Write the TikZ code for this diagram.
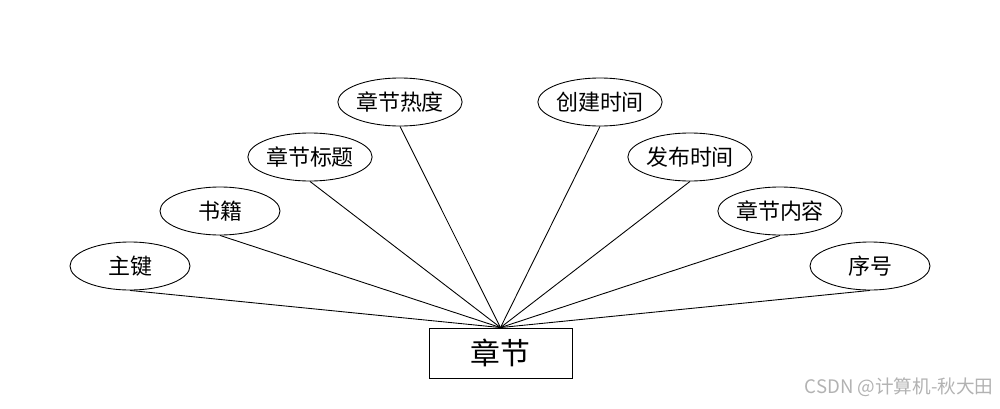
\documentclass[tikz,border=0pt]{standalone}
\usepackage{fontspec}
\setmainfont{Noto Sans CJK SC}
\usetikzlibrary{shapes.geometric}

\begin{document}
\begin{tikzpicture}[line width=0.5pt,
  attr/.style={draw,ellipse,minimum width=2.4cm,minimum height=0.96cm,inner sep=0pt,font=\fontsize{12.5}{14}\selectfont},
  entity/.style={draw,rectangle,minimum width=2.86cm,minimum height=1.0cm,inner sep=0pt,font=\fontsize{17}{19}\selectfont}]
  \useasboundingbox (0,0) rectangle (20,8.16);
  % entity
  \node[entity] (zj) at (10.01,1.1) {章节};
  % attributes, left side
  \node[attr] (key) at (2.6,2.84) {主键};
  \node[attr] (book) at (4.4,3.94) {书籍};
  \node[attr] (title) at (6.2,5.02) {章节标题};
  \node[attr] (heat) at (8.0,6.12) {章节热度};
  % attributes, right side
  \node[attr] (ctime) at (12.0,6.12) {创建时间};
  \node[attr] (ptime) at (13.8,5.02) {发布时间};
  \node[attr] (content) at (15.6,3.94) {章节内容};
  \node[attr] (order) at (17.4,2.84) {序号};
  % links
  \foreach \a in {key,book,title,heat,ctime,ptime,content,order}
    \draw (\a.south) -- (zj.north);
  % watermark
  \node[anchor=east,inner sep=0pt,text=black!30,font=\fontsize{10.6}{12}\selectfont] (wm) at (19.88,0.42) {CSDN @计算机-秋大田};
\end{tikzpicture}
\end{document}
